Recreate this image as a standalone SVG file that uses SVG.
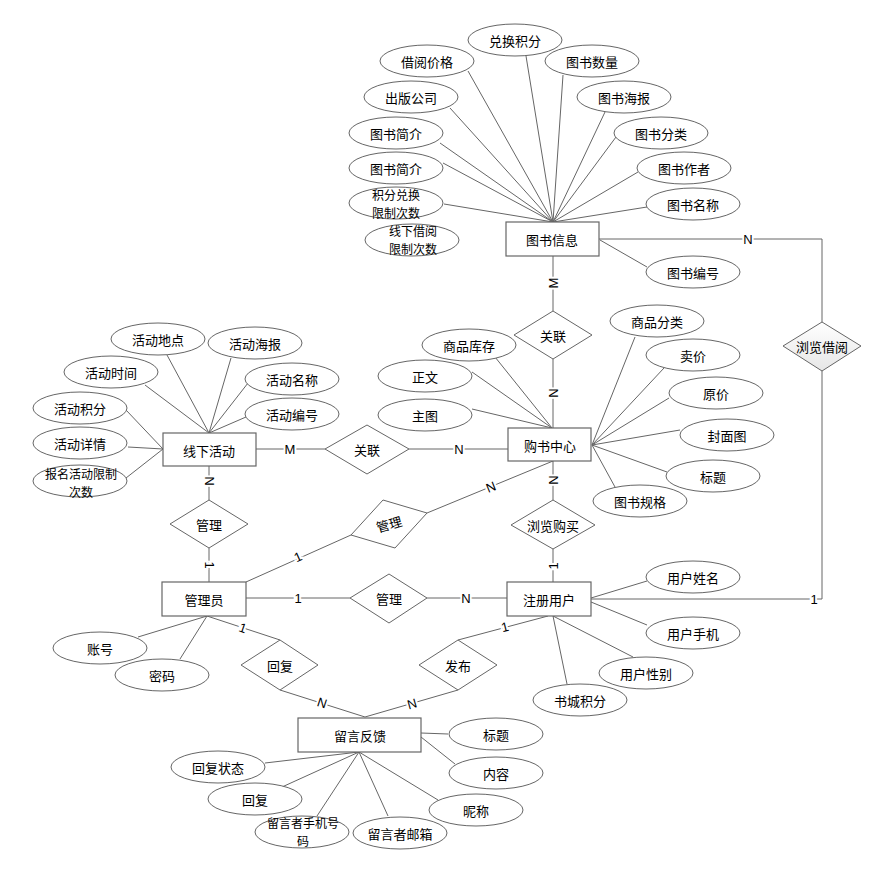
<svg xmlns="http://www.w3.org/2000/svg" width="873" height="885" viewBox="0 0 873 885">
<style>
.bg{fill:#fff}
.ln{stroke:#666;stroke-width:1;fill:none}
.ent{fill:#fff;stroke:#666;stroke-width:1.2}
.att{fill:#fff;stroke:#666;stroke-width:1}
.rel{fill:#fff;stroke:#666;stroke-width:1}
.t{font-family:"Noto Sans CJK SC","Noto Sans",sans-serif;font-size:13px;fill:#000;text-anchor:middle;dominant-baseline:central}
.t2{font-size:12px}
.lb{font-family:"Liberation Sans",Arial,sans-serif;font-size:13px;fill:#000;text-anchor:middle;dominant-baseline:central;stroke:#fff;stroke-width:4;paint-order:stroke}
</style>
<defs>
<linearGradient id="g1" x1="0" y1="0" x2="0" y2="1"><stop offset="0" stop-color="#ffffff"/><stop offset="1" stop-color="#e6e6e6"/></linearGradient>
</defs>
<rect class="bg" x="0" y="0" width="873" height="885"/>
<g id="connectors">
<path class="ln" d="M553,222L468,71M553,222L526,56M553,222L563,75M553,222L450,108M553,222L605,112M553,222L440,143M553,222L616,137M553,222L443,163M553,222L638,172M553,222L444,204M553,222L647,207M600,240L647,267"/>
<path class="ln" d="M599,239H822V322M822,371V599H591"/>
<path class="ln" d="M553,256V311M553,359V428"/>
<path class="ln" d="M552,428L495,357M552,428L472,372M552,428L472,409M592,445L635,337M592,445L664,368M592,445L669,398M592,445L680,430M592,445L667,472M592,445L615,487"/>
<path class="ln" d="M256,449H325M409,449H508"/>
<path class="ln" d="M209,433L167,355M209,433L231,358M209,433L145,385M209,433L248,383M209,433L246,417M163,449L126,410M163,449L128,447M163,449L126,478"/>
<path class="ln" d="M209,466V500M209,548V582"/>
<path class="ln" d="M246,582L351,535M427,513L553,461"/>
<path class="ln" d="M246,598H350M427,598H507"/>
<path class="ln" d="M207,616L138,637M207,616L180,659M207,616L280,640M280,690L365,717"/>
<path class="ln" d="M553,461V500M553,549V582"/>
<path class="ln" d="M591,598L647,581M591,602L647,625M553,616L633,657M553,616L567,684"/>
<path class="ln" d="M548,616L458,640M458,690L365,717"/>
<path class="ln" d="M359,752L265,763M359,752L282,787M359,752L317,816M359,752L388,816M359,752L438,800M421,733L448,734M421,737L455,764"/>
<text class="lb" x="748" y="239">N</text>
<text class="lb" x="814" y="599">1</text>
<text class="lb" transform="translate(553,283) rotate(-90)">M</text>
<text class="lb" transform="translate(553,393) rotate(-90)">N</text>
<text class="lb" x="290" y="449">M</text>
<text class="lb" x="459" y="449">N</text>
<text class="lb" transform="translate(209,481) rotate(-90)">N</text>
<text class="lb" transform="translate(209,565) rotate(90)">1</text>
<text class="lb" transform="translate(298,557) rotate(-24)">1</text>
<text class="lb" transform="translate(491,487) rotate(-22)">N</text>
<text class="lb" x="298" y="598">1</text>
<text class="lb" x="466" y="598">N</text>
<text class="lb" transform="translate(553,480) rotate(-90)">N</text>
<text class="lb" transform="translate(553,566) rotate(-90)">1</text>
<text class="lb" transform="translate(243,628) rotate(19)">1</text>
<text class="lb" transform="translate(322,703) rotate(18)">N</text>
<text class="lb" transform="translate(505,627) rotate(-14)">1</text>
<text class="lb" transform="translate(412,704) rotate(-16)">N</text>
</g>
<g id="e-tushuxinxi"><rect class="ent" x="506" y="222" width="93" height="34"/><text class="t" x="552" y="239">图书信息</text></g>
<g id="e-goushuzhongxin"><rect class="ent" x="508" y="428" width="83" height="33"/><text class="t" x="550" y="445">购书中心</text></g>
<g id="e-xianxiahuodong"><rect class="ent" x="163" y="433" width="93" height="33"/><text class="t" x="209" y="450">线下活动</text></g>
<g id="e-guanliyuan"><rect class="ent" x="162" y="582" width="84" height="34"/><text class="t" x="204" y="599">管理员</text></g>
<g id="e-zhuceyonghu"><rect class="ent" x="507" y="582" width="84" height="34"/><text class="t" x="549" y="599">注册用户</text></g>
<g id="e-liuyanfankui"><rect class="ent" x="298" y="718" width="123" height="34"/><text class="t" x="360" y="735">留言反馈</text></g>
<g id="r-liulanjieyue"><polygon class="rel" style="fill:url(#g1)" points="822,322 861,346 822,371 783,346"/><text class="t" x="822" y="346">浏览借阅</text></g>
<g id="r-guanlian1"><polygon class="rel" points="553,311 592,335 553,359 514,335"/><text class="t" x="553" y="335">关联</text></g>
<g id="r-guanlian2"><polygon class="rel" points="367,425 409,449 367,474 325,449"/><text class="t" x="367" y="449">关联</text></g>
<g id="r-guanli1"><polygon class="rel" points="209,500 248,524 209,548 170,524"/><text class="t" x="209" y="524">管理</text></g>
<g id="r-guanli2"><polygon class="rel" points="351,535 383,500 427,513 395,548"/><text class="t" transform="translate(389,524) rotate(-16)">管理</text></g>
<g id="r-guanli3"><polygon class="rel" points="389,574 427,598 389,623 350,598"/><text class="t" x="389" y="598">管理</text></g>
<g id="r-liulangoumai"><polygon class="rel" points="553,500 595,525 553,549 511,525"/><text class="t" x="553" y="525">浏览购买</text></g>
<g id="r-huifu"><polygon class="rel" points="280,640 318,665 280,690 241,665"/><text class="t" x="280" y="665">回复</text></g>
<g id="r-fabu"><polygon class="rel" points="458,640 497,665 458,690 419,665"/><text class="t" x="458" y="665">发布</text></g>
<g id="a-duihuanjifen"><ellipse class="att" cx="515" cy="40" rx="47" ry="16"/><text class="t" x="515" y="40">兑换积分</text></g>
<g id="a-jieyuejiage"><ellipse class="att" cx="427" cy="61" rx="47" ry="16"/><text class="t" x="427" y="61">借阅价格</text></g>
<g id="a-tushushuliang"><ellipse class="att" cx="592" cy="61" rx="47" ry="16"/><text class="t" x="592" y="61">图书数量</text></g>
<g id="a-chubangongsi"><ellipse class="att" cx="411" cy="97" rx="47" ry="16"/><text class="t" x="411" y="97">出版公司</text></g>
<g id="a-tushuhaibao"><ellipse class="att" cx="624" cy="97" rx="47" ry="16"/><text class="t" x="624" y="97">图书海报</text></g>
<g id="a-tushujianjie1"><ellipse class="att" cx="396" cy="133" rx="47" ry="16"/><text class="t" x="396" y="133">图书简介</text></g>
<g id="a-tushufenlei"><ellipse class="att" cx="661" cy="133" rx="47" ry="16"/><text class="t" x="661" y="133">图书分类</text></g>
<g id="a-tushujianjie2"><ellipse class="att" cx="396" cy="168" rx="47" ry="16"/><text class="t" x="396" y="168">图书简介</text></g>
<g id="a-tushuzuozhe"><ellipse class="att" cx="684" cy="168" rx="47" ry="16"/><text class="t" x="684" y="168">图书作者</text></g>
<g id="a-jifenduihuan"><ellipse class="att" cx="396" cy="203" rx="47" ry="16"/><text class="t t2" x="396" y="194">积分兑换</text><text class="t t2" x="396" y="212">限制次数</text></g>
<g id="a-tushumingcheng"><ellipse class="att" cx="693" cy="204" rx="47" ry="16"/><text class="t" x="693" y="204">图书名称</text></g>
<g id="a-xianxiajieyue"><ellipse class="att" cx="412" cy="240" rx="47" ry="16"/><text class="t t2" x="413" y="230">线下借阅</text><text class="t t2" x="413" y="248">限制次数</text></g>
<g id="a-tushubianhao"><ellipse class="att" cx="693" cy="272" rx="47" ry="16"/><text class="t" x="693" y="272">图书编号</text></g>
<g id="a-shangpinkucun"><ellipse class="att" cx="469" cy="345" rx="47" ry="16"/><text class="t" x="469" y="345">商品库存</text></g>
<g id="a-zhengwen"><ellipse class="att" cx="425" cy="376" rx="47" ry="16"/><text class="t" x="425" y="376">正文</text></g>
<g id="a-zhutu"><ellipse class="att" cx="425" cy="415" rx="47" ry="16"/><text class="t" x="425" y="415">主图</text></g>
<g id="a-shangpinfenlei"><ellipse class="att" cx="657" cy="321" rx="47" ry="16"/><text class="t" x="657" y="321">商品分类</text></g>
<g id="a-maijia"><ellipse class="att" cx="693" cy="355" rx="47" ry="16"/><text class="t" x="693" y="355">卖价</text></g>
<g id="a-yuanjia"><ellipse class="att" cx="716" cy="393" rx="47" ry="16"/><text class="t" x="716" y="393">原价</text></g>
<g id="a-fengmiantu"><ellipse class="att" cx="727" cy="435" rx="47" ry="16"/><text class="t" x="727" y="435">封面图</text></g>
<g id="a-biaoti1"><ellipse class="att" cx="713" cy="476" rx="47" ry="16"/><text class="t" x="713" y="476">标题</text></g>
<g id="a-tushuguige"><ellipse class="att" cx="640" cy="501" rx="47" ry="16"/><text class="t" x="640" y="501">图书规格</text></g>
<g id="a-huodongdidian"><ellipse class="att" cx="158" cy="339" rx="47" ry="16"/><text class="t" x="158" y="339">活动地点</text></g>
<g id="a-huodonghaibao"><ellipse class="att" cx="255" cy="343" rx="47" ry="16"/><text class="t" x="255" y="343">活动海报</text></g>
<g id="a-huodongshijian"><ellipse class="att" cx="111" cy="372" rx="47" ry="16"/><text class="t" x="111" y="372">活动时间</text></g>
<g id="a-huodongmingcheng"><ellipse class="att" cx="292" cy="379" rx="47" ry="16"/><text class="t" x="292" y="379">活动名称</text></g>
<g id="a-huodongjifen"><ellipse class="att" cx="80" cy="408" rx="47" ry="16"/><text class="t" x="80" y="408">活动积分</text></g>
<g id="a-huodongbianhao"><ellipse class="att" cx="292" cy="414" rx="47" ry="16"/><text class="t" x="292" y="414">活动编号</text></g>
<g id="a-huodongxiangqing"><ellipse class="att" cx="80" cy="443" rx="47" ry="16"/><text class="t" x="80" y="443">活动详情</text></g>
<g id="a-baoming"><ellipse class="att" cx="80" cy="481" rx="47" ry="16"/><text class="t t2" x="81" y="473">报名活动限制</text><text class="t t2" x="81" y="491">次数</text></g>
<g id="a-zhanghao"><ellipse class="att" cx="100" cy="648" rx="47" ry="16"/><text class="t" x="100" y="648">账号</text></g>
<g id="a-mima"><ellipse class="att" cx="162" cy="675" rx="47" ry="16"/><text class="t" x="162" y="675">密码</text></g>
<g id="a-yonghuxingming"><ellipse class="att" cx="693" cy="577" rx="47" ry="16"/><text class="t" x="693" y="577">用户姓名</text></g>
<g id="a-yonghushouji"><ellipse class="att" cx="693" cy="633" rx="47" ry="16"/><text class="t" x="693" y="633">用户手机</text></g>
<g id="a-yonghuxingbie"><ellipse class="att" cx="646" cy="673" rx="47" ry="16"/><text class="t" x="646" y="673">用户性别</text></g>
<g id="a-shuchengjifen"><ellipse class="att" cx="580" cy="700" rx="47" ry="16"/><text class="t" x="580" y="700">书城积分</text></g>
<g id="a-biaoti2"><ellipse class="att" cx="496" cy="734" rx="47" ry="16"/><text class="t" x="496" y="734">标题</text></g>
<g id="a-neirong"><ellipse class="att" cx="496" cy="773" rx="47" ry="16"/><text class="t" x="496" y="773">内容</text></g>
<g id="a-nicheng"><ellipse class="att" cx="476" cy="810" rx="47" ry="16"/><text class="t" x="476" y="810">昵称</text></g>
<g id="a-youxiang"><ellipse class="att" cx="400" cy="833" rx="47" ry="16"/><text class="t" x="400" y="833">留言者邮箱</text></g>
<g id="a-shouji"><ellipse class="att" cx="302" cy="832" rx="47" ry="16"/><text class="t t2" x="303" y="822">留言者手机号</text><text class="t t2" x="303" y="840">码</text></g>
<g id="a-huifu"><ellipse class="att" cx="255" cy="799" rx="47" ry="16"/><text class="t" x="255" y="799">回复</text></g>
<g id="a-huifuzhuangtai"><ellipse class="att" cx="218" cy="767" rx="47" ry="16"/><text class="t" x="218" y="767">回复状态</text></g>
</svg>
